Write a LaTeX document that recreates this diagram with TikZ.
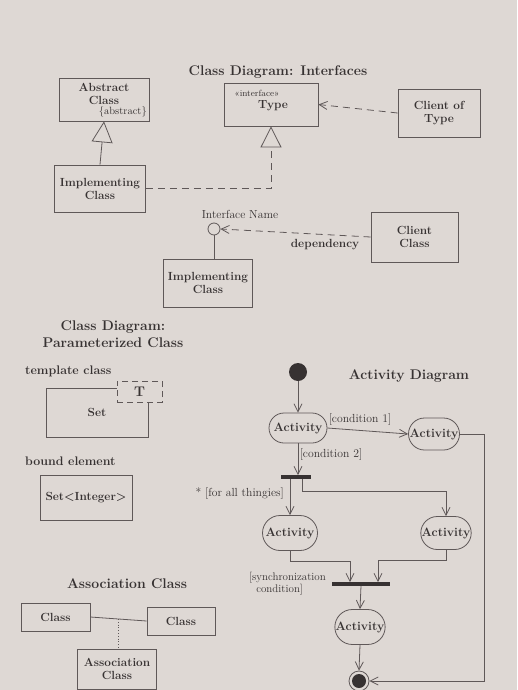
\documentclass[tikz,border=0pt]{standalone}
\usepackage{fontspec}
\usetikzlibrary{arrows.meta,shapes.misc}
\definecolor{paper}{RGB}{222,216,212}
\definecolor{ink}{RGB}{55,50,50}
\definecolor{pen}{RGB}{95,88,88}

\begin{document}
\begin{tikzpicture}[x=1pt, y=-1pt,
    box/.style={draw=pen, line width=0.8pt, fill=paper, inner sep=0pt, align=center,
      font=\fontsize{11.8}{13}\selectfont\bfseries, text=ink},
    boxtxt/.style={font=\fontsize{11.8}{13}\selectfont\bfseries, text=ink, align=center, inner sep=1pt},
    act/.style={box, rounded rectangle, font=\fontsize{12.2}{13}\selectfont\bfseries},
    title/.style={font=\fontsize{14}{16.5}\selectfont\bfseries, text=ink, align=center},
    note/.style={font=\fontsize{11.7}{12}\selectfont, text=ink, align=left, inner sep=1pt},
    tag/.style={boxtxt, anchor=west, font=\fontsize{12.4}{13}\selectfont\bfseries},
    bar/.style={fill=ink, minimum height=3.2pt, inner sep=0pt},
    line/.style={draw=pen, line width=0.8pt},
    flow/.style={line, -{Straight Barb[length=8pt,width=8pt]}},
    dep/.style={flow, dash pattern=on 7pt off 5pt},
    gen/.style={line, -{Triangle[length=21pt,width=21pt,fill=paper]}},
    real/.style={gen, dash pattern=on 7pt off 5pt}]

  % page
  \fill[paper] (0,0) rectangle (517,690);
  \useasboundingbox (0,0) rectangle (517,690);

  % ####################################
  % class diagram: interfaces
  \node[title] (ttlIf) at (278,72) {Class Diagram: Interfaces};

  \node[box, minimum width=90pt, minimum height=43pt] (abs) at (104,99.5) {};
  \node[boxtxt] (absTx) at (104,94) {Abstract\\Class};
  \node[note, anchor=east, font=\fontsize{10.5}{12}\selectfont] (absTag) at (148,112) {\{abstract\}};

  \node[box, minimum width=94pt, minimum height=43pt] (type) at (271,104.5) {};
  \node[note, font=\fontsize{9}{10}\selectfont] (typeSt) at (257,93) {«interface»};
  \node[boxtxt] (typeTx) at (273,106) {Type};

  \node[box, minimum width=82pt, minimum height=48pt] (cot) at (439,113) {Client of\\Type};
  \node[box, minimum width=91pt, minimum height=47pt] (impl1) at (100,188.5) {Implementing\\Class};

  % generalization, realization, dependency
  \draw[gen] (impl1.north) -- (abs.south);
  \draw[real] (impl1.east) -| (type.south);
  \draw[dep] (cot.west) -- (type.east);

  % lollipop interface
  \node[note] (ifName) at (240,214) {Interface Name};
  \node[line, circle, minimum size=12pt, inner sep=0pt, fill=paper] (iface) at (214,229) {};
  \node[box, minimum width=87pt, minimum height=50pt] (cc) at (414.5,237) {Client\\Class};
  \draw[dep] (cc.west) -- (iface.east);
  \node[boxtxt] (depLbl) at (325,245) {dependency};
  \node[box, minimum width=89pt, minimum height=48pt] (impl2) at (208,283) {Implementing\\Class};
  \draw[line] (iface.south) -- (iface.south |- impl2.north);

  % ####################################
  % class diagram: parameterized class
  \node[title] (ttlPar) at (113,334) {Class Diagram:\\Parameterized Class};
  \node[tag] (tplLbl) at (24,371) {template class};
  \node[box, minimum width=102pt, minimum height=49pt] (set) at (97,412.5) {Set};
  \node[box, dash pattern=on 6pt off 4pt, minimum width=45pt, minimum height=21pt,
    font=\fontsize{14}{15}\selectfont\bfseries] (tpar) at (139.5,391.5) {T};
  \node[tag] (bndLbl) at (24,461) {bound element};
  \node[box, minimum width=92pt, minimum height=45pt] (setInt) at (86,497.5) {Set<Integer>};

  % ####################################
  % activity diagram
  \node[fill=ink, circle, minimum size=18pt, inner sep=0pt] (start) at (298,372) {};
  \node[title] (ttlAct) at (409,376) {Activity Diagram};

  \node[act, minimum width=58pt, minimum height=30pt] (act1) at (298,428) {Activity};
  \node[act, minimum width=51pt, minimum height=32pt] (act2) at (434,434) {Activity};
  \node[act, minimum width=55pt, minimum height=35pt] (act3) at (290,533) {Activity};
  \node[act, minimum width=47pt, minimum height=33pt] (act4) at (446,533) {Activity};
  \node[act, minimum width=50pt, minimum height=35pt] (act5) at (360,627) {Activity};
  \node[bar, minimum width=30pt] (fork) at (296,477) {};
  \node[bar, minimum width=58pt] (join) at (361,584) {};
  \node[line, circle, minimum size=20pt, inner sep=0pt, fill=paper] (end) at (359,681) {};
  \node[fill=ink, circle, minimum size=14pt, inner sep=0pt] (endDot) at (end) {};

  \draw[flow] (start) -- (act1);
  \draw[flow] (act1.east) -- (act2.west);
  \node[note] (cond1) at (360,420) {[condition 1]};
  \draw[flow] (act1.south) -- (act1.south |- fork.north);
  \node[note] (cond2) at (331,455) {[condition 2]};
  \draw[flow] (fork.south -| act3.north) -- (act3.north);
  \draw[flow] ([xshift=6pt]fork.south) -- ++(0,13) -| (act4.north);
  \node[note, anchor=east] (forAll) at (285,494) {* [for all thingies]};
  \draw[flow] (act3.south) -- ++(0,10) -| ([xshift=-11pt]join.north);
  \draw[flow] (act4.south) -- ++(0,10) -| ([xshift=17pt]join.north);
  \node[note, anchor=east, font=\fontsize{11}{12}\selectfont] (sync) at (327,584) {[synchronization\\\ \ condition]};
  \draw[flow] (join.south) -- (act5.north);
  \draw[flow] (act5.south) -- (end.north);
  \draw[flow] (act2.east) -- ++(24,0) |- (end.east);

  % ####################################
  % association class
  \node[title] (ttlAsc) at (127,584) {Association Class};
  \node[box, minimum width=69pt, minimum height=28pt] (cls1) at (55.5,617) {Class};
  \node[box, minimum width=68pt, minimum height=28pt] (cls2) at (181,621) {Class};
  \draw[line] (cls1.east) -- node[coordinate, midway] (ascMid) {} (cls2.west);
  \node[box, minimum width=79pt, minimum height=40pt] (ascCls) at (117,669) {Association\\Class};
  \draw[line, dotted] (ascMid) -- (ascMid |- ascCls.north);
\end{tikzpicture}
\end{document}
